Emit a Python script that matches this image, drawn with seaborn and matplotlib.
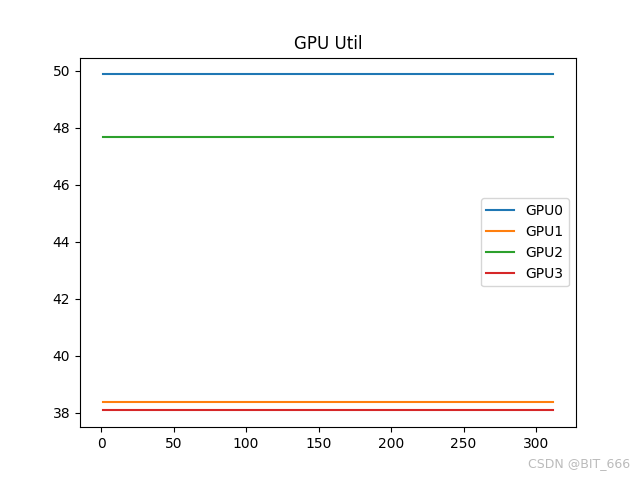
import matplotlib
matplotlib.use("Agg")
import matplotlib.pyplot as plt
import seaborn as sns

steps = [1, 312]
gpu0 = [49.88, 49.88]
gpu1 = [38.38, 38.38]
gpu2 = [47.68, 47.68]
gpu3 = [38.09, 38.09]
names = ["GPU0", "GPU1", "GPU2", "GPU3"]

fig, ax = plt.subplots(figsize=(6.4, 4.8), dpi=100)
for name, vals in zip(names, [gpu0, gpu1, gpu2, gpu3]):
    sns.lineplot(x=steps, y=vals, ax=ax, label=name)
ax.set_title("GPU Util")
ax.legend(loc="center right")
fig.text(0.985, 0.02, "CSDN @BIT_666", ha="right", va="bottom", color="#bbbbbb", fontsize=9)
fig.savefig("out.png")
